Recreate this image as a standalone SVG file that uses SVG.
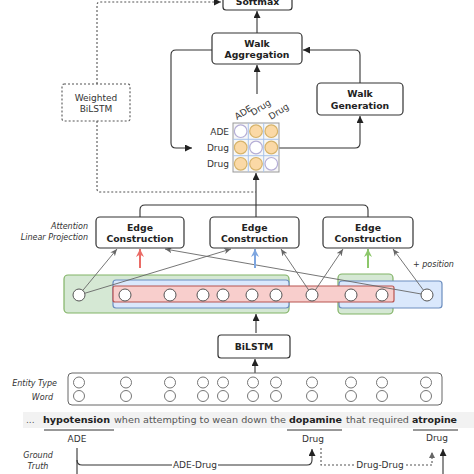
<svg xmlns="http://www.w3.org/2000/svg" width="474" height="474" viewBox="0 0 474 474">
<style>
.box{fill:#fff;stroke:#333;stroke-width:1.2}
.bl{font-family:"DejaVu Sans",Verdana,sans-serif;font-weight:bold;font-size:9.3px;fill:#222;text-anchor:middle}
.t{font-family:"DejaVu Sans",Verdana,sans-serif;font-size:9px;fill:#333}
.it{font-family:"DejaVu Sans",Verdana,sans-serif;font-style:italic;font-size:8px;fill:#333}
.ln{fill:none;stroke:#333;stroke-width:1.1}
.dot{fill:none;stroke:#555;stroke-width:1.1;stroke-dasharray:2 2}
.gl{fill:none;stroke:#666;stroke-width:0.9}
.c{fill:#fff;stroke:#555;stroke-width:1}
.ci{fill:#fff;stroke:#666;stroke-width:0.9}
.or{fill:#fbd9a6;stroke:#d6b36a;stroke-width:1.2}
.wc{fill:#fff;stroke:#b5aed6;stroke-width:1.2}
.sent{font-family:"DejaVu Sans",Verdana,sans-serif;font-size:9px;fill:#555}
.sb{font-family:"DejaVu Sans",Verdana,sans-serif;font-size:9px;font-weight:bold;fill:#222}
</style>
<defs>
<marker id="a" markerUnits="userSpaceOnUse" markerWidth="8" markerHeight="7" refX="7" refY="3.5" orient="auto"><path d="M0,0 L7,3.5 L0,7 Z" fill="#222"/></marker>
<marker id="ag" markerUnits="userSpaceOnUse" markerWidth="8" markerHeight="7" refX="7" refY="3.5" orient="auto"><path d="M0,0.5 L7,3.5 L0,6.5 L2,3.5 Z" fill="#666"/></marker>
<marker id="ar" markerUnits="userSpaceOnUse" markerWidth="9" markerHeight="8" refX="8" refY="4" orient="auto"><path d="M0,0 L8,4 L0,8 L2.5,4 Z" fill="#ea6b66"/></marker>
<marker id="ab" markerUnits="userSpaceOnUse" markerWidth="9" markerHeight="8" refX="8" refY="4" orient="auto"><path d="M0,0 L8,4 L0,8 L2.5,4 Z" fill="#7ea6e0"/></marker>
<marker id="agr" markerUnits="userSpaceOnUse" markerWidth="9" markerHeight="8" refX="8" refY="4" orient="auto"><path d="M0,0 L8,4 L0,8 L2.5,4 Z" fill="#8cc76a"/></marker>
<marker id="ad" markerUnits="userSpaceOnUse" markerWidth="7" markerHeight="6" refX="6" refY="3" orient="auto"><path d="M0,0 L6,3 L0,6 Z" fill="#666"/></marker>
</defs>

<!-- bands -->
<g id="bands">
<rect x="64" y="275" width="225" height="38" rx="4" fill="#d5e8d4" stroke="#82b366" stroke-width="1.2"/>
<rect x="338" y="274" width="55" height="40" rx="4" fill="#d5e8d4" stroke="#82b366" stroke-width="1.2"/>
<rect x="113" y="280" width="176" height="28" rx="3" fill="#dae8fc" stroke="#6c8ebf" stroke-width="1.2"/>
<rect x="339" y="281" width="103" height="27" rx="3" fill="#dae8fc" stroke="#6c8ebf" stroke-width="1.2"/>
<rect x="113" y="286" width="281" height="16" rx="2" fill="#f8cecc" stroke="#b85450" stroke-width="1.2"/>
</g>

<g id="connectors">
<path class="ln" d="M257,33 V11" marker-end="url(#a)"/>
<path class="ln" d="M212,50 H176 Q171,50 171,55 V143 Q171,148 176,148 H192" marker-end="url(#a)"/>
<path class="ln" d="M360,83 V55 Q360,50 355,50 H303" marker-end="url(#a)"/>
<path class="ln" d="M279,148 H355 Q360,148 360,143 V116" marker-end="url(#a)"/>
<path class="ln" d="M257,94 V65" marker-end="url(#a)"/>
<path class="ln" d="M140,217 V210 Q140,205 145,205 H363 Q368,205 368,210 V217"/>
<path class="ln" d="M256,217 V173" marker-end="url(#a)"/>
<path class="dot" d="M97,84 V5 Q97,2 100,2 H221" marker-end="url(#a)"/>
<path class="dot" d="M97,121 V189 Q97,192 100,192 H256"/>
<path class="gl" d="M79,295 L117,249" marker-end="url(#ag)"/>
<path class="gl" d="M79,295 L231,249" marker-end="url(#ag)"/>
<path class="gl" d="M427,295 L165,249" marker-end="url(#ag)"/>
<path class="gl" d="M312,295 L281,249" marker-end="url(#ag)"/>
<path class="gl" d="M312,295 L343,249" marker-end="url(#ag)"/>
<path class="gl" d="M427,295 L393,249" marker-end="url(#ag)"/>
<path d="M140,268 V249" stroke="#ea6b66" stroke-width="2" marker-end="url(#ar)"/>
<path d="M255,268 V249" stroke="#7ea6e0" stroke-width="2" marker-end="url(#ab)"/>
<path d="M368,268 V249" stroke="#8cc76a" stroke-width="2" marker-end="url(#agr)"/>
<path class="ln" d="M256,333 V314" marker-end="url(#a)"/>
<path class="ln" d="M255,373 V359" marker-end="url(#a)"/>
<path class="ln" d="M77,448 V474"/>
<path class="ln" d="M77,460 Q77,465 82,465 H172"/>
<path class="ln" d="M218,465 H307 Q312,465 312,460 V449" marker-end="url(#a)"/>
<path class="dot" d="M321,448 V465 H354" stroke="#888"/>
<path class="dot" d="M406,465 H432 V452" stroke="#888" marker-end="url(#ad)"/>
<path class="ln" d="M443,474 V449" marker-end="url(#a)"/>
</g>

<g id="softmax">
<rect class="box" x="223" y="-12" width="69" height="22" rx="3"/>
<text class="bl" x="257.5" y="5">Softmax</text>
</g>
<g id="walk-aggregation">
<rect class="box" x="212" y="33" width="90" height="31" rx="4"/>
<text class="bl" x="257" y="47">Walk</text>
<text class="bl" x="257" y="58">Aggregation</text>
</g>
<g id="walk-generation">
<rect class="box" x="317" y="83" width="86" height="32" rx="4"/>
<text class="bl" x="360" y="97">Walk</text>
<text class="bl" x="360" y="109">Generation</text>
</g>
<g id="weighted-bilstm">
<rect x="62" y="84" width="68" height="37" rx="2" fill="#fff" stroke="#555" stroke-width="1.1" stroke-dasharray="2 2"/>
<text class="t" x="96" y="101" text-anchor="middle" fill="#555">Weighted</text>
<text class="t" x="96" y="112" text-anchor="middle" fill="#555">BiLSTM</text>
</g>

<g id="matrix">
<rect x="233" y="123" width="46" height="49" fill="#f7f7f7" stroke="#999" stroke-width="1"/>
<path d="M248.3,123 V172 M263.7,123 V172 M233,139.3 H279 M233,155.7 H279" stroke="#a9c4eb" stroke-width="1"/>
<circle class="wc" cx="240.7" cy="131.2" r="6.3"/>
<circle class="or" cx="256" cy="131.2" r="6.3"/>
<circle class="or" cx="271.3" cy="131.2" r="6.3"/>
<circle class="or" cx="240.7" cy="147.5" r="6.3"/>
<circle class="wc" cx="256" cy="147.5" r="6.3"/>
<circle class="or" cx="271.3" cy="147.5" r="6.3"/>
<circle class="or" cx="240.7" cy="163.8" r="6.3"/>
<circle class="or" cx="256" cy="163.8" r="6.3"/>
<circle class="wc" cx="271.3" cy="163.8" r="6.3"/>
<text class="t" x="229" y="135" text-anchor="end" font-size="9.5">ADE</text>
<text class="t" x="229" y="151" text-anchor="end" font-size="9.5">Drug</text>
<text class="t" x="229" y="167" text-anchor="end" font-size="9.5">Drug</text>
<text class="t" font-size="9.5" transform="translate(237,120) rotate(-32)">ADE</text>
<text class="t" font-size="9.5" transform="translate(253,116) rotate(-32)">Drug</text>
<text class="t" font-size="9.5" transform="translate(271,120) rotate(-32)">Drug</text>
</g>

<g id="edge-construction-1">
<rect class="box" x="96" y="217" width="88" height="31" rx="4"/>
<text class="bl" x="140" y="231">Edge</text>
<text class="bl" x="140" y="242">Construction</text>
</g>
<g id="edge-construction-2">
<rect class="box" x="210" y="217" width="89" height="31" rx="4"/>
<text class="bl" x="254.5" y="231">Edge</text>
<text class="bl" x="254.5" y="242">Construction</text>
</g>
<g id="edge-construction-3">
<rect class="box" x="323" y="217" width="90" height="31" rx="4"/>
<text class="bl" x="368" y="231">Edge</text>
<text class="bl" x="368" y="242">Construction</text>
</g>
<g id="labels">
<text class="it" x="88" y="229" text-anchor="end">Attention</text>
<text class="it" x="88" y="240" text-anchor="end">Linear Projection</text>
<text class="it" x="413" y="267">+ position</text>
</g>

<g id="band-circles">
<circle class="c" cx="79" cy="295" r="6"/>
<circle class="c" cx="125" cy="295" r="6"/>
<circle class="c" cx="170" cy="295" r="6"/>
<circle class="c" cx="203" cy="295" r="6"/>
<circle class="c" cx="223" cy="295" r="6"/>
<circle class="c" cx="252" cy="295" r="6"/>
<circle class="c" cx="276" cy="295" r="6"/>
<circle class="c" cx="312" cy="295" r="6"/>
<circle class="c" cx="351" cy="295" r="6"/>
<circle class="c" cx="382" cy="295" r="6"/>
<circle class="c" cx="427" cy="295" r="6"/>
</g>

<g id="bilstm">
<rect class="box" x="218" y="335" width="72" height="23" rx="3"/>
<text class="bl" x="254" y="350" font-size="9">BiLSTM</text>
</g>

<g id="input">
<rect x="68" y="373" width="374" height="32" rx="4" fill="#fff" stroke="#666" stroke-width="1"/>
<g>
<circle class="ci" cx="79" cy="382.5" r="5.5"/><circle class="ci" cx="79" cy="396" r="5.5"/>
<circle class="ci" cx="126" cy="382.5" r="5.5"/><circle class="ci" cx="126" cy="396" r="5.5"/>
<circle class="ci" cx="170" cy="382.5" r="5.5"/><circle class="ci" cx="170" cy="396" r="5.5"/>
<circle class="ci" cx="203" cy="382.5" r="5.5"/><circle class="ci" cx="203" cy="396" r="5.5"/>
<circle class="ci" cx="223" cy="382.5" r="5.5"/><circle class="ci" cx="223" cy="396" r="5.5"/>
<circle class="ci" cx="253" cy="382.5" r="5.5"/><circle class="ci" cx="253" cy="396" r="5.5"/>
<circle class="ci" cx="276" cy="382.5" r="5.5"/><circle class="ci" cx="276" cy="396" r="5.5"/>
<circle class="ci" cx="312" cy="382.5" r="5.5"/><circle class="ci" cx="312" cy="396" r="5.5"/>
<circle class="ci" cx="351" cy="382.5" r="5.5"/><circle class="ci" cx="351" cy="396" r="5.5"/>
<circle class="ci" cx="382" cy="382.5" r="5.5"/><circle class="ci" cx="382" cy="396" r="5.5"/>
<circle class="ci" cx="426" cy="382.5" r="5.5"/><circle class="ci" cx="426" cy="396" r="5.5"/>
</g>
<text class="it" x="57" y="386" text-anchor="end">Entity Type</text>
<text class="it" x="53" y="400" text-anchor="end">Word</text>
</g>

<g id="sentence">
<rect x="23" y="412" width="451" height="16" fill="#f2f2f2"/>
<text class="sent" x="26" y="423">...</text>
<text class="sb" x="43" y="423" textLength="67" lengthAdjust="spacingAndGlyphs">hypotension</text>
<text class="sent" x="114" y="423" textLength="172" lengthAdjust="spacingAndGlyphs">when attempting to wean down the</text>
<text class="sb" x="289" y="423" textLength="53" lengthAdjust="spacingAndGlyphs">dopamine</text>
<text class="sent" x="346" y="423" textLength="63" lengthAdjust="spacingAndGlyphs">that required</text>
<text class="sb" x="412" y="423" textLength="45" lengthAdjust="spacingAndGlyphs">atropine</text>
<path d="M44,430 H114 M287,430 H342 M413,430 H458" stroke="#333" stroke-width="1"/>
</g>

<g id="ground-truth">
<text class="t" x="77" y="442" text-anchor="middle">ADE</text>
<text class="t" x="313" y="442" text-anchor="middle">Drug</text>
<text class="t" x="437" y="441" text-anchor="middle">Drug</text>
<text class="it" x="38" y="458" text-anchor="middle" font-size="8.5">Ground</text>
<text class="it" x="38" y="469" text-anchor="middle" font-size="8.5">Truth</text>
<text class="t" x="195" y="468" text-anchor="middle" font-size="8.5">ADE-Drug</text>
<text class="t" x="380" y="468" text-anchor="middle" font-size="8.5">Drug-Drug</text>
</g>
</svg>
